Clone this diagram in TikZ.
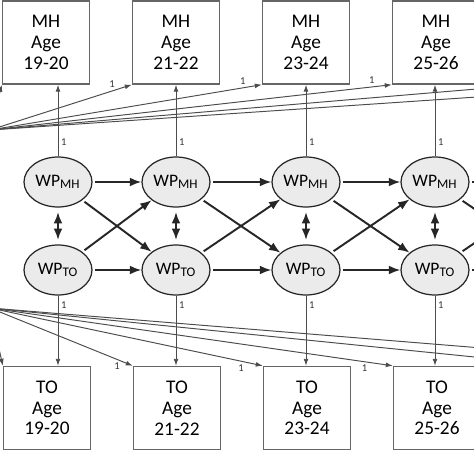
\documentclass[tikz,border=0pt]{standalone}
\usepackage{fontspec}
\setmainfont{Carlito}
\usetikzlibrary{arrows.meta,shapes.geometric}

\newcommand{\wpsub}[1]{\textsubscript{\fontsize{7.5}{7.5}\selectfont #1}}

\begin{document}
\begin{tikzpicture}[x=0.02cm,y=-0.02cm,
    obsbox/.style={draw=black!60,line width=0.8pt,minimum width=1.74cm,
      minimum height=1.66cm,align=center,inner sep=0pt,
      font=\fontsize{11}{11.8}\selectfont},
    latent/.style={ellipse,draw=black!85,line width=0.7pt,fill=black!8,
      minimum width=1.36cm,minimum height=1.0cm,inner sep=0pt,
      font=\fontsize{10}{10}\selectfont},
    thickar/.style={line width=1.1pt,black!85,-{Latex[length=6.5pt,width=5pt]},
      shorten <=1.5pt},
    dblar/.style={line width=1.1pt,black!85,
      {Latex[length=6.5pt,width=5pt]}-{Latex[length=6.5pt,width=5pt]},
      shorten >=2.5pt,shorten <=2.5pt},
    loadar/.style={line width=0.55pt,black!70,-{Latex[length=4pt,width=2.8pt]}},
    lbl/.style={font=\fontsize{6}{6}\selectfont,inner sep=1.5pt,black!80}]
  \useasboundingbox (0,0) rectangle (474,474);
  \clip (0,0) rectangle (474,474);

  % observed MH boxes (top)
  \node[obsbox] (mh19) at (46,42.5)  {MH\\Age\\19-20};
  \node[obsbox] (mh21) at (176,42.5) {MH\\Age\\21-22};
  \node[obsbox] (mh23) at (306,42.5) {MH\\Age\\23-24};
  \node[obsbox] (mh25) at (436,42.5) {MH\\Age\\25-26};
  % observed TO boxes (bottom)
  \node[obsbox] (to19) at (47,408)  {TO\\Age\\19-20};
  \node[obsbox] (to21) at (177,408) {TO\\Age\\21-22};
  \node[obsbox] (to23) at (307,408) {TO\\Age\\23-24};
  \node[obsbox] (to25) at (437,408) {TO\\Age\\25-26};

  % within-person factors
  \node[latent] (wpmh1) at (58,182)  {WP\wpsub{MH}};
  \node[latent] (wpmh2) at (176,182) {WP\wpsub{MH}};
  \node[latent] (wpmh3) at (306,182) {WP\wpsub{MH}};
  \node[latent] (wpmh4) at (435,182) {WP\wpsub{MH}};
  \node[latent] (wpto1) at (58,270)  {WP\wpsub{TO}};
  \node[latent] (wpto2) at (176,270) {WP\wpsub{TO}};
  \node[latent] (wpto3) at (306,270) {WP\wpsub{TO}};
  \node[latent] (wpto4) at (435,270) {WP\wpsub{TO}};

  % next wave and growth factors lie outside the frame
  \coordinate (wpmh5) at (564,182);
  \coordinate (wpto5) at (564,270);
  \coordinate (mh27) at (524,85);
  \coordinate (mh29) at (654,85);
  \coordinate (to27) at (524,362);
  \coordinate (to29) at (654,362);
  \coordinate (gmh) at (-10,130);
  \coordinate (gto) at (-10,308);

  % loadings of the growth factors
  \draw[loadar] (gmh) -- (mh19.south west);
  \draw[loadar] (gmh) -- (mh21.south west) node[lbl,above,pos=0.86] {1};
  \draw[loadar] (gmh) -- (mh23.south west) node[lbl,above,pos=0.93] {1};
  \draw[loadar] (gmh) -- (mh25.south west) node[lbl,above,pos=0.95] {1};
  \draw[loadar] (gmh) -- (mh27);
  \draw[loadar] (gmh) -- (mh29);
  \draw[loadar] (gto) -- (to19.north west);
  \draw[loadar] (gto) -- (to21.north west) node[lbl,below,pos=0.89] {1};
  \draw[loadar] (gto) -- (to23.north west) node[lbl,below,pos=0.92] {1};
  \draw[loadar] (gto) -- (to25.north west) node[lbl,below,pos=0.93] {1};
  \draw[loadar] (gto) -- (to27);
  \draw[loadar] (gto) -- (to29);

  % loadings of the within-person factors
  \draw[loadar] (wpmh1.north) -- (wpmh1.north |- mh19.south) node[lbl,right,pos=0.2] {1};
  \draw[loadar] (wpmh2.north) -- (wpmh2.north |- mh21.south) node[lbl,right,pos=0.2] {1};
  \draw[loadar] (wpmh3.north) -- (wpmh3.north |- mh23.south) node[lbl,right,pos=0.2] {1};
  \draw[loadar] (wpmh4.north) -- (wpmh4.north |- mh25.south) node[lbl,right,pos=0.2] {1};
  \draw[loadar] (wpto1.south) -- (wpto1.south |- to19.north) node[lbl,right,pos=0.14] {1};
  \draw[loadar] (wpto2.south) -- (wpto2.south |- to21.north) node[lbl,right,pos=0.14] {1};
  \draw[loadar] (wpto3.south) -- (wpto3.south |- to23.north) node[lbl,right,pos=0.14] {1};
  \draw[loadar] (wpto4.south) -- (wpto4.south |- to25.north) node[lbl,right,pos=0.14] {1};

  % autoregressive and cross-lagged paths
  \draw[thickar] (wpmh1) -- (wpmh2);
  \draw[thickar] (wpmh2) -- (wpmh3);
  \draw[thickar] (wpmh3) -- (wpmh4);
  \draw[thickar] (wpmh4) -- (wpmh5);
  \draw[thickar] (wpto1) -- (wpto2);
  \draw[thickar] (wpto2) -- (wpto3);
  \draw[thickar] (wpto3) -- (wpto4);
  \draw[thickar] (wpto4) -- (wpto5);
  \draw[thickar] (wpmh1) -- (wpto2);
  \draw[thickar] (wpmh2) -- (wpto3);
  \draw[thickar] (wpmh3) -- (wpto4);
  \draw[thickar] (wpmh4) -- (wpto5);
  \draw[thickar] (wpto1) -- (wpmh2);
  \draw[thickar] (wpto2) -- (wpmh3);
  \draw[thickar] (wpto3) -- (wpmh4);
  \draw[thickar] (wpto4) -- (wpmh5);

  % within-wave covariances
  \draw[dblar] (wpmh1) -- (wpto1);
  \draw[dblar] (wpmh2) -- (wpto2);
  \draw[dblar] (wpmh3) -- (wpto3);
  \draw[dblar] (wpmh4) -- (wpto4);
\end{tikzpicture}
\end{document}
